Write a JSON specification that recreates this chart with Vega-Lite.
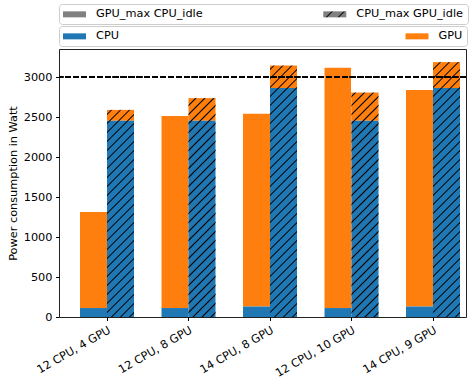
{
  "$schema": "https://vega.github.io/schema/vega-lite/v6.json",
  "width": 407,
  "height": 268,
  "autosize": {"type": "none"},
  "padding": {"left": 59, "top": 49, "right": 8, "bottom": 70},
  "background": "white",
  "config": {
    "font": "DejaVu Sans",
    "view": {"stroke": "#222222", "strokeWidth": 1},
    "axis": {
      "labelFont": "DejaVu Sans", "labelFontSize": 11.3, "labelColor": "#000000",
      "tickColor": "#000000", "tickSize": 3.5, "labelPadding": 3.5, "domain": false, "grid": false,
      "titleFont": "DejaVu Sans", "titleFontSize": 11.3, "titleFontWeight": "normal", "titleColor": "#000000"
    },
    "legend": {
      "labelFont": "DejaVu Sans", "labelFontSize": 11.3, "labelColor": "#000000",
      "padding": 4, "strokeColor": "#cccccc", "fillColor": "white", "cornerRadius": 3,
      "symbolStrokeWidth": 0, "rowPadding": 0,
      "symbolBaseFillColor": {"expr": "datum.value === 'CPU_max GPU_idle' ? {gradient: 'linear', x1: 0, y1: 0, x2: 1.18053, y2: 0.30796, stops: [{offset: 0, color: '#808080'}, {offset: 0.26, color: '#808080'}, {offset: 0.31, color: '#000000'}, {offset: 0.36, color: '#808080'}, {offset: 0.674, color: '#808080'}, {offset: 0.724, color: '#000000'}, {offset: 0.774, color: '#808080'}, {offset: 1, color: '#808080'}]} : '#808080'"}
    }
  },
  "data": {
    "values": [
      {"config": "12 CPU, 4 GPU", "mode": "GPU_max CPU_idle", "component": "CPU", "watts": 112},
      {"config": "12 CPU, 4 GPU", "mode": "GPU_max CPU_idle", "component": "GPU", "watts": 1200},
      {"config": "12 CPU, 4 GPU", "mode": "CPU_max GPU_idle", "component": "CPU", "watts": 2455},
      {"config": "12 CPU, 4 GPU", "mode": "CPU_max GPU_idle", "component": "GPU", "watts": 141},
      {"config": "12 CPU, 8 GPU", "mode": "GPU_max CPU_idle", "component": "CPU", "watts": 112},
      {"config": "12 CPU, 8 GPU", "mode": "GPU_max CPU_idle", "component": "GPU", "watts": 2400},
      {"config": "12 CPU, 8 GPU", "mode": "CPU_max GPU_idle", "component": "CPU", "watts": 2455},
      {"config": "12 CPU, 8 GPU", "mode": "CPU_max GPU_idle", "component": "GPU", "watts": 287},
      {"config": "14 CPU, 8 GPU", "mode": "GPU_max CPU_idle", "component": "CPU", "watts": 133},
      {"config": "14 CPU, 8 GPU", "mode": "GPU_max CPU_idle", "component": "GPU", "watts": 2408},
      {"config": "14 CPU, 8 GPU", "mode": "CPU_max GPU_idle", "component": "CPU", "watts": 2862},
      {"config": "14 CPU, 8 GPU", "mode": "CPU_max GPU_idle", "component": "GPU", "watts": 288},
      {"config": "12 CPU, 10 GPU", "mode": "GPU_max CPU_idle", "component": "CPU", "watts": 112},
      {"config": "12 CPU, 10 GPU", "mode": "GPU_max CPU_idle", "component": "GPU", "watts": 3004},
      {"config": "12 CPU, 10 GPU", "mode": "CPU_max GPU_idle", "component": "CPU", "watts": 2455},
      {"config": "12 CPU, 10 GPU", "mode": "CPU_max GPU_idle", "component": "GPU", "watts": 357},
      {"config": "14 CPU, 9 GPU", "mode": "GPU_max CPU_idle", "component": "CPU", "watts": 133},
      {"config": "14 CPU, 9 GPU", "mode": "GPU_max CPU_idle", "component": "GPU", "watts": 2704},
      {"config": "14 CPU, 9 GPU", "mode": "CPU_max GPU_idle", "component": "CPU", "watts": 2862},
      {"config": "14 CPU, 9 GPU", "mode": "CPU_max GPU_idle", "component": "GPU", "watts": 330}
    ]
  },
  "layer": [
    {
      "mark": {"type": "bar"},
      "encoding": {
        "x": {
          "field": "config", "type": "nominal",
          "scale": {
            "domain": ["12 CPU, 4 GPU", "12 CPU, 8 GPU", "14 CPU, 8 GPU", "12 CPU, 10 GPU", "14 CPU, 9 GPU"],
            "paddingInner": 0.33742, "paddingOuter": 0.16564, "align": 0.778
          },
          "axis": {"title": null, "labelAngle": -30, "labelAlign": "right", "labelBaseline": "top"}
        },
        "xOffset": {
          "field": "mode", "type": "nominal",
          "scale": {"domain": ["GPU_max CPU_idle", "CPU_max GPU_idle"], "paddingInner": 0, "paddingOuter": 0}
        },
        "y": {
          "field": "watts", "type": "quantitative", "stack": "zero",
          "scale": {"domain": [0, 3350], "nice": false},
          "axis": {"title": "Power consumption in Watt", "values": [0, 500, 1000, 1500, 2000, 2500, 3000], "format": "d", "titlePadding": 5}
        },
        "order": {"field": "component", "sort": "ascending"},
        "color": {
          "field": "component", "type": "nominal",
          "scale": {"domain": ["CPU", "GPU"], "range": ["#1f77b4", "#ff7f0e"]},
          "legend": {
            "title": null, "orient": "none", "legendX": 0, "legendY": -23,
            "columns": 2, "columnPadding": 285.5,
            "symbolType": "M-1.9167,-0.5H1.9167V0.5H-1.9167Z", "symbolSize": 144,
            "symbolOffset": 5.5, "labelOffset": 15.5
          }
        },
        "opacity": {
          "field": "mode", "type": "nominal",
          "scale": {"type": "ordinal", "domain": ["GPU_max CPU_idle", "CPU_max GPU_idle"], "range": [1, 1]},
          "legend": {
            "title": null, "orient": "none", "legendX": 0, "legendY": -45,
            "columns": 2, "columnPadding": 119.3,
            "symbolType": "M-1.9167,-0.5H1.9167V0.5H-1.9167Z", "symbolSize": 144,
            "symbolOffset": 5.5, "labelOffset": 15.5
          }
        }
      }
    },
    {
      "transform": [
        {"filter": "datum.mode === 'CPU_max GPU_idle'"},
        {"aggregate": [{"op": "sum", "field": "watts", "as": "total"}], "groupby": ["config", "mode"]}
      ],
      "encoding": {
        "x": {"field": "config", "type": "nominal"},
        "xOffset": {"field": "mode", "type": "nominal"}
      },
      "layer": [
        {
          "mark": {
            "type": "bar",
            "fill": {
              "gradient": "linear", "x1": 0, "y1": 0, "x2": 0.11294, "y2": 1.09177,
              "stops": [
                {"offset": 0.010625, "color": "rgba(0,0,0,0)"}, {"offset": 0.015625, "color": "#000000"}, {"offset": 0.020625, "color": "rgba(0,0,0,0)"},
                {"offset": 0.041875, "color": "rgba(0,0,0,0)"}, {"offset": 0.046875, "color": "#000000"}, {"offset": 0.051875, "color": "rgba(0,0,0,0)"},
                {"offset": 0.073125, "color": "rgba(0,0,0,0)"}, {"offset": 0.078125, "color": "#000000"}, {"offset": 0.083125, "color": "rgba(0,0,0,0)"},
                {"offset": 0.104375, "color": "rgba(0,0,0,0)"}, {"offset": 0.109375, "color": "#000000"}, {"offset": 0.114375, "color": "rgba(0,0,0,0)"},
                {"offset": 0.135625, "color": "rgba(0,0,0,0)"}, {"offset": 0.140625, "color": "#000000"}, {"offset": 0.145625, "color": "rgba(0,0,0,0)"},
                {"offset": 0.166875, "color": "rgba(0,0,0,0)"}, {"offset": 0.171875, "color": "#000000"}, {"offset": 0.176875, "color": "rgba(0,0,0,0)"},
                {"offset": 0.198125, "color": "rgba(0,0,0,0)"}, {"offset": 0.203125, "color": "#000000"}, {"offset": 0.208125, "color": "rgba(0,0,0,0)"},
                {"offset": 0.229375, "color": "rgba(0,0,0,0)"}, {"offset": 0.234375, "color": "#000000"}, {"offset": 0.239375, "color": "rgba(0,0,0,0)"},
                {"offset": 0.260625, "color": "rgba(0,0,0,0)"}, {"offset": 0.265625, "color": "#000000"}, {"offset": 0.270625, "color": "rgba(0,0,0,0)"},
                {"offset": 0.291875, "color": "rgba(0,0,0,0)"}, {"offset": 0.296875, "color": "#000000"}, {"offset": 0.301875, "color": "rgba(0,0,0,0)"},
                {"offset": 0.323125, "color": "rgba(0,0,0,0)"}, {"offset": 0.328125, "color": "#000000"}, {"offset": 0.333125, "color": "rgba(0,0,0,0)"},
                {"offset": 0.354375, "color": "rgba(0,0,0,0)"}, {"offset": 0.359375, "color": "#000000"}, {"offset": 0.364375, "color": "rgba(0,0,0,0)"},
                {"offset": 0.385625, "color": "rgba(0,0,0,0)"}, {"offset": 0.390625, "color": "#000000"}, {"offset": 0.395625, "color": "rgba(0,0,0,0)"},
                {"offset": 0.416875, "color": "rgba(0,0,0,0)"}, {"offset": 0.421875, "color": "#000000"}, {"offset": 0.426875, "color": "rgba(0,0,0,0)"},
                {"offset": 0.448125, "color": "rgba(0,0,0,0)"}, {"offset": 0.453125, "color": "#000000"}, {"offset": 0.458125, "color": "rgba(0,0,0,0)"},
                {"offset": 0.479375, "color": "rgba(0,0,0,0)"}, {"offset": 0.484375, "color": "#000000"}, {"offset": 0.489375, "color": "rgba(0,0,0,0)"},
                {"offset": 0.510625, "color": "rgba(0,0,0,0)"}, {"offset": 0.515625, "color": "#000000"}, {"offset": 0.520625, "color": "rgba(0,0,0,0)"},
                {"offset": 0.541875, "color": "rgba(0,0,0,0)"}, {"offset": 0.546875, "color": "#000000"}, {"offset": 0.551875, "color": "rgba(0,0,0,0)"},
                {"offset": 0.573125, "color": "rgba(0,0,0,0)"}, {"offset": 0.578125, "color": "#000000"}, {"offset": 0.583125, "color": "rgba(0,0,0,0)"},
                {"offset": 0.604375, "color": "rgba(0,0,0,0)"}, {"offset": 0.609375, "color": "#000000"}, {"offset": 0.614375, "color": "rgba(0,0,0,0)"},
                {"offset": 0.635625, "color": "rgba(0,0,0,0)"}, {"offset": 0.640625, "color": "#000000"}, {"offset": 0.645625, "color": "rgba(0,0,0,0)"},
                {"offset": 0.666875, "color": "rgba(0,0,0,0)"}, {"offset": 0.671875, "color": "#000000"}, {"offset": 0.676875, "color": "rgba(0,0,0,0)"},
                {"offset": 0.698125, "color": "rgba(0,0,0,0)"}, {"offset": 0.703125, "color": "#000000"}, {"offset": 0.708125, "color": "rgba(0,0,0,0)"},
                {"offset": 0.729375, "color": "rgba(0,0,0,0)"}, {"offset": 0.734375, "color": "#000000"}, {"offset": 0.739375, "color": "rgba(0,0,0,0)"},
                {"offset": 0.760625, "color": "rgba(0,0,0,0)"}, {"offset": 0.765625, "color": "#000000"}, {"offset": 0.770625, "color": "rgba(0,0,0,0)"},
                {"offset": 0.791875, "color": "rgba(0,0,0,0)"}, {"offset": 0.796875, "color": "#000000"}, {"offset": 0.801875, "color": "rgba(0,0,0,0)"},
                {"offset": 0.823125, "color": "rgba(0,0,0,0)"}, {"offset": 0.828125, "color": "#000000"}, {"offset": 0.833125, "color": "rgba(0,0,0,0)"},
                {"offset": 0.854375, "color": "rgba(0,0,0,0)"}, {"offset": 0.859375, "color": "#000000"}, {"offset": 0.864375, "color": "rgba(0,0,0,0)"},
                {"offset": 0.885625, "color": "rgba(0,0,0,0)"}, {"offset": 0.890625, "color": "#000000"}, {"offset": 0.895625, "color": "rgba(0,0,0,0)"},
                {"offset": 0.916875, "color": "rgba(0,0,0,0)"}, {"offset": 0.921875, "color": "#000000"}, {"offset": 0.926875, "color": "rgba(0,0,0,0)"},
                {"offset": 0.948125, "color": "rgba(0,0,0,0)"}, {"offset": 0.953125, "color": "#000000"}, {"offset": 0.958125, "color": "rgba(0,0,0,0)"},
                {"offset": 0.979375, "color": "rgba(0,0,0,0)"}, {"offset": 0.984375, "color": "#000000"}, {"offset": 0.989375, "color": "rgba(0,0,0,0)"}
              ]
            }
          },
          "encoding": {
            "y": {"datum": 0, "type": "quantitative"},
            "y2": {"datum": 3262.5}
          }
        },
        {
          "mark": {"type": "bar", "fill": "white", "stroke": "white", "strokeWidth": 1},
          "encoding": {
            "y": {"field": "total", "type": "quantitative"},
            "y2": {"datum": 3262.5}
          }
        }
      ]
    },
    {
      "mark": {"type": "rule", "strokeDash": [5.5, 2.4], "strokeWidth": 1.5, "color": "#000000"},
      "encoding": {"y": {"datum": 3000}}
    }
  ]
}
